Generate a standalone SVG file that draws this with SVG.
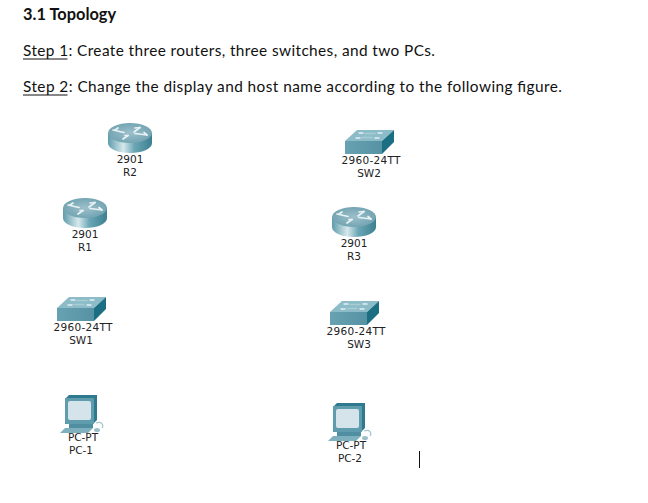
<svg xmlns="http://www.w3.org/2000/svg" width="648" height="503" viewBox="0 0 648 503">
<style>
.h{font-family:"Lato","Noto Sans",sans-serif;font-size:15.4px;fill:#111}
.b{font-weight:700;font-size:16.400px}
.u{stroke:#111;stroke-width:1}
.l{font-family:"DejaVu Sans","Noto Sans",sans-serif;font-size:10.500px;fill:#222;text-anchor:middle}
</style>
<defs>
<linearGradient id="rg" x1="0" x2="1" y1="0" y2="0">
<stop offset="0" stop-color="#5f9cab"/><stop offset=".35" stop-color="#d6e8ec"/><stop offset=".6" stop-color="#6ba6b5"/><stop offset="1" stop-color="#3c8091"/>
</linearGradient>
<radialGradient id="rt" cx=".5" cy=".5" r=".6"><stop offset="0" stop-color="#9dc0cb"/><stop offset="1" stop-color="#6c9fae"/></radialGradient>
<linearGradient id="sf" x1="0" x2="1" y1="0" y2="0"><stop offset="0" stop-color="#68a2b2"/><stop offset="1" stop-color="#5592a3"/></linearGradient>
<g id="router">
<path d="M0 10V20C0 26 10 30 22 30S44 26 44 20V10Z" fill="url(#rg)"/>
<ellipse cx="22" cy="10" rx="22" ry="10" fill="url(#rt)"/>
<g fill="none" stroke="#e8f2f4" stroke-width="1.700" stroke-linecap="round">
<path d="M5 7L16 9.500"/><path d="M7 7L10 5"/><path d="M26 9L32 4.500"/><path d="M27 5L32 4.500"/><path d="M27 10.500L39 12"/><path d="M36 9.500L39 12"/><path d="M15 16L20 12.500"/><path d="M17 12.500L20 12.500"/>
</g>
</g>
<g id="switch">
<polygon points="0,11 12,0 49,0 37,11" fill="#8bbcc8"/>
<rect x="0" y="11" width="37" height="13" fill="url(#sf)"/>
<polygon points="37,11 49,0 49,12 37,24" fill="#1c6f82"/>
<g fill="none" stroke-width="1.400" stroke-linecap="round">
<g stroke="#e4f0f3"><path d="M14 3H18"/><path d="M33 3H37"/><path d="M11 8H15"/><path d="M30 8H34"/></g>
<g stroke="#a9cdd6"><path d="M20 3.500H30"/><path d="M17 7.500H27"/></g>
</g>
</g>
<g id="pc">
<polygon points="5,4 9,0 37,0 37,25 33,29 5,29" fill="#2e7a8e"/>
<rect x="5" y="3" width="29" height="26" rx="1" fill="#5f9cae"/>
<rect x="8" y="6" width="23" height="19" rx="2" fill="#d5e4ea"/>
<rect x="9" y="29" width="24" height="4" fill="#4f8fa1"/>
<polygon points="5,33 33,33 28,38 0,38" fill="#7fb0bd"/>
<path d="M36 28C42 26 44 30 42 33" fill="none" stroke="#a5c7d0" stroke-width="1.200"/>
<ellipse cx="37" cy="35" rx="3" ry="2" fill="#9cc0ca"/>
</g>
</defs>

<g id="heading">
<text class="h b" x="23" y="20">3.1 Topology</text>
<text class="h" x="23" y="56" textLength="412">Step 1: Create three routers, three switches, and two PCs.</text>
<line class="u" x1="23" y1="59" x2="67.500" y2="59"/>
<text class="h" x="23" y="91.500" textLength="539">Step 2: Change the display and host name according to the following figure.</text>
<line class="u" x1="23" y1="95" x2="67.500" y2="95"/>
</g>

<g id="R2"><use href="#router" x="108" y="123"/><text class="l" x="130" y="163">2901</text><text class="l" x="130" y="176">R2</text></g>
<g id="R1"><use href="#router" x="63" y="198"/><text class="l" x="85" y="238">2901</text><text class="l" x="85" y="251">R1</text></g>
<g id="R3"><use href="#router" x="332" y="207"/><text class="l" x="354" y="247">2901</text><text class="l" x="354" y="260">R3</text></g>
<g id="SW2"><use href="#switch" x="345" y="130"/><text class="l" x="371" y="164" textLength="59">2960-24TT</text><text class="l" x="369" y="177">SW2</text></g>
<g id="SW1"><use href="#switch" x="57" y="297"/><text class="l" x="83" y="331" textLength="59">2960-24TT</text><text class="l" x="81" y="344">SW1</text></g>
<g id="SW3"><use href="#switch" x="330" y="301"/><text class="l" x="356" y="335" textLength="59">2960-24TT</text><text class="l" x="359" y="348">SW3</text></g>
<g id="PC-1"><use href="#pc" x="60" y="395"/><text class="l" x="83" y="441">PC-PT</text><text class="l" x="81" y="454">PC-1</text></g>
<g id="PC-2"><use href="#pc" x="328" y="403"/><text class="l" x="351" y="449">PC-PT</text><text class="l" x="350" y="462">PC-2</text></g>
<line id="cursor" x1="419.500" y1="451" x2="419.500" y2="468" stroke="#111" stroke-width="1"/>
<g id="connectors"/>
</svg>
